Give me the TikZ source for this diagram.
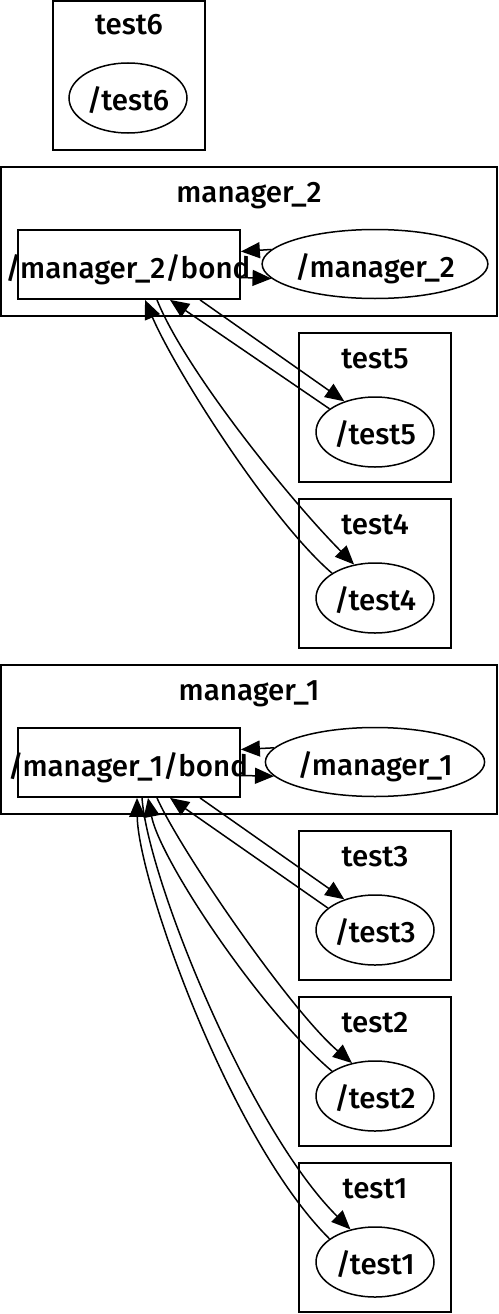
\documentclass[tikz,border=0pt]{standalone}
\usepackage{fontspec}
\setmainfont{Fira Sans Medium}
\usetikzlibrary{arrows.meta,shapes.geometric}
\tikzset{
  grp/.style={draw, line width=2pt, minimum width=152pt, minimum height=149pt, inner sep=0pt},
  mgrp/.style={grp, minimum width=496pt},
  proc/.style={draw, ellipse, line width=1.5pt, minimum width=118pt, minimum height=70pt, inner sep=0pt, text height=25pt, text depth=0pt},
  mproc/.style={proc, minimum width=210pt, minimum height=69pt, text height=27pt},
  bondbox/.style={draw, line width=1.8pt, minimum width=222pt, minimum height=69pt, inner sep=0pt},
  edge/.style={line width=1.5pt, -{Triangle[length=19pt,width=16pt]}},
}
\begin{document}
\begin{tikzpicture}[x=1pt,y=-1pt,font=\fontsize{29.5}{34}\selectfont]
\useasboundingbox (0,0) rectangle (498,1314);
% test6
\node[grp] (g6) at (129,75.5) {};
\node[anchor=base] (g6title) at (129,35) {test6};
\node[proc] (t6) at (128,98) {/test6};
% manager_2
\node[mgrp] (gm2) at (249,241.5) {};
\node[anchor=base] (gm2title) at (249,202) {manager\_2};
\node[bondbox] (bond2) at (129,264.5) {};
\node[anchor=base] (bond2text) at (128,278) {/manager\_2/bond};
\node[mproc] (m2) at (375,264) {/manager\_2};
% test5, test4
\node[grp] (g5) at (375,407.5) {};
\node[anchor=base] (g5title) at (375,368) {test5};
\node[proc] (t5) at (375,432) {/test5};
\node[grp] (g4) at (375,573.5) {};
\node[anchor=base] (g4title) at (375,534) {test4};
\node[proc] (t4) at (375,598) {/test4};
% manager_1
\node[mgrp] (gm1) at (249,739.5) {};
\node[anchor=base] (gm1title) at (249,700) {manager\_1};
\node[bondbox] (bond1) at (129,762.5) {};
\node[anchor=base] (bond1text) at (128,776) {/manager\_1/bond};
\node[mproc] (m1) at (375,762) {/manager\_1};
% test3, test2, test1
\node[grp] (g3) at (375,905.5) {};
\node[anchor=base] (g3title) at (375,866) {test3};
\node[proc] (t3) at (375,930) {/test3};
\node[grp] (g2) at (375,1071.5) {};
\node[anchor=base] (g2title) at (375,1032) {test2};
\node[proc] (t2) at (375,1096) {/test2};
\node[grp] (g1) at (375,1237.5) {};
\node[anchor=base] (g1title) at (375,1198) {test1};
\node[proc] (t1) at (375,1262) {/test1};
% edges manager_2
\draw[edge] (m2.172) -- ([yshift=13pt]bond2.east);
\draw[edge] ([yshift=-13pt]bond2.east) -- (m2.188);
\draw[edge] ([xshift=71pt]bond2.south) -- (t5.135);
\draw[edge] (t5.153) -- ([xshift=41pt]bond2.south);
\draw[edge] ([xshift=28pt]bond2.south) .. controls (185,370) and (290,500) .. (t4.122);
\draw[edge] (t4.150) .. controls (270,520) and (175,370) .. ([xshift=16pt]bond2.south);
% edges manager_1
\draw[edge] (m1.172) -- ([yshift=13pt]bond1.east);
\draw[edge] ([yshift=-13pt]bond1.east) -- (m1.188);
\draw[edge] ([xshift=71pt]bond1.south) -- (t3.135);
\draw[edge] (t3.155) -- ([xshift=41pt]bond1.south);
\draw[edge] ([xshift=28pt]bond1.south) .. controls (180,850) and (290,1010) .. (t2.125);
\draw[edge] (t2.150) .. controls (260,1010) and (160,860) .. ([xshift=19pt]bond1.south);
\draw[edge] ([xshift=13pt]bond1.south) .. controls (148,880) and (250,1130) .. (t1.127);
\draw[edge] (t1.153) .. controls (230,1140) and (138,880) .. ([xshift=8pt]bond1.south);
\end{tikzpicture}
\end{document}
